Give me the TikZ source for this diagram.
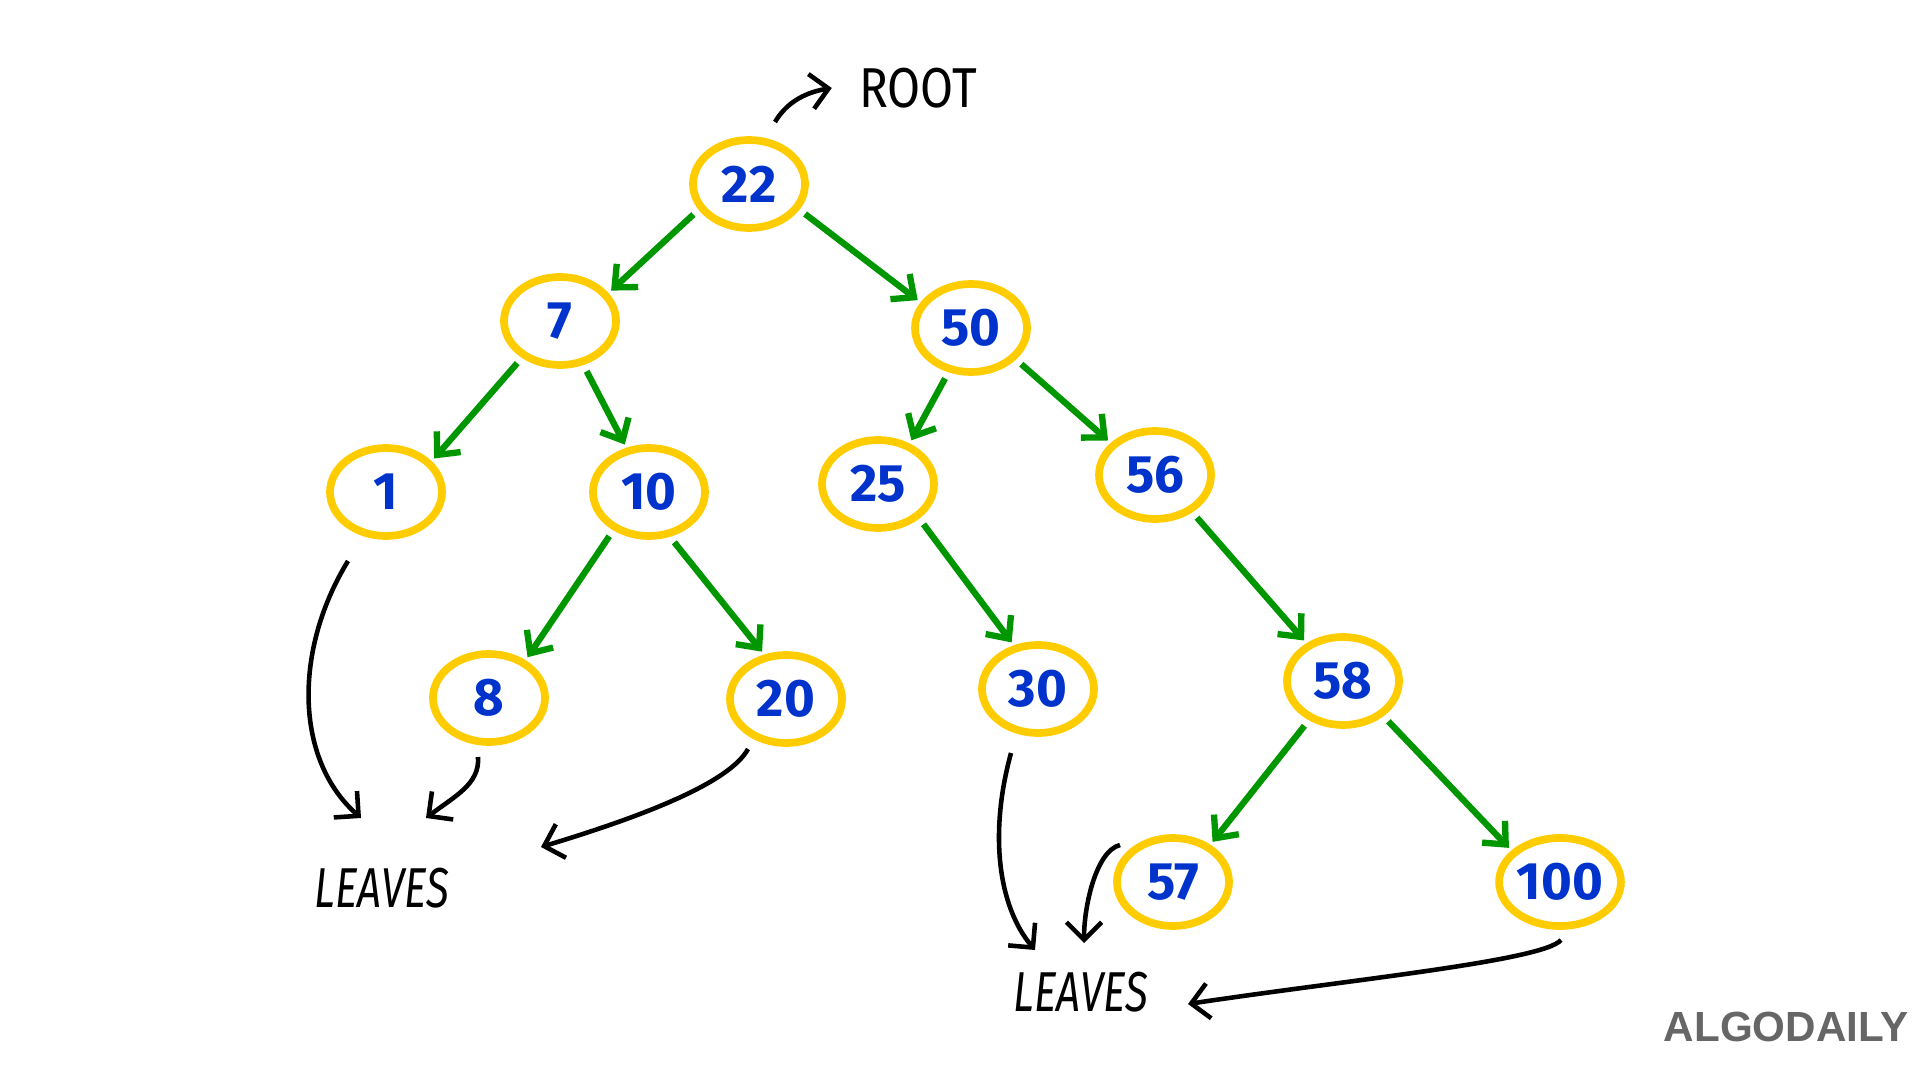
\documentclass[tikz,border=0pt]{standalone}
\usepackage{fontspec}
\usepackage{graphicx}
\setsansfont{Fira Sans}
\newfontfamily\brandfont{Liberation Sans}
\usepackage{tikz}
\usetikzlibrary{shapes,arrows.meta,positioning}
\definecolor{keyblue}{RGB}{0,51,204}
\definecolor{ringyellow}{RGB}{255,204,0}
\definecolor{branchgreen}{RGB}{0,150,0}
\definecolor{brandgray}{RGB}{102,102,102}

\begin{document}
\begin{tikzpicture}[
    keynode/.style={draw=ringyellow, line width=2.2pt, ellipse, minimum width=1.12cm, minimum height=0.88cm, inner sep=0pt, text=keyblue, font=\sffamily\bfseries\fontsize{15}{15}\selectfont},
    branch/.style={draw=branchgreen, line width=1.8pt, -{Straight Barb[length=5pt,width=9pt]}, shorten <=2pt, shorten >=1pt},
    leafarrow/.style={draw=black, line width=1.3pt, -{Straight Barb[length=5pt,width=10pt]}},
    handtext/.style={font=\sffamily\fontsize{16}{16}\selectfont}
]
        \useasboundingbox (0,0) rectangle (19.2,-10.8);

        % the keys
        \node[keynode] (n22) at (7.49,-1.84) {22};
        \node[keynode] (n7) at (5.60,-3.21) {7};
        \node[keynode] (n50) at (9.71,-3.28) {50};
        \node[keynode] (n1) at (3.86,-4.92) {1};
        \node[keynode] (n10) at (6.49,-4.92) {10};
        \node[keynode] (n25) at (8.78,-4.84) {25};
        \node[keynode] (n56) at (11.55,-4.75) {56};
        \node[keynode] (n8) at (4.89,-6.98) {8};
        \node[keynode] (n20) at (7.86,-6.99) {20};
        \node[keynode] (n30) at (10.38,-6.89) {30};
        \node[keynode] (n58) at (13.43,-6.81) {58};
        \node[keynode] (n57) at (11.73,-8.82) {57};
        \node[keynode] (n100) at (15.60,-8.82) {100};

        % labels
        \node[handtext] (rootlabel) at (9.18,-0.88) {\scalebox{0.85}[1]{ROOT}};
        \node[handtext] (leavesleft) at (3.82,-8.88) {\scalebox{0.75}[1]{\itshape LEAVES}};
        \node[handtext] (leavesright) at (10.81,-9.92) {\scalebox{0.75}[1]{\itshape LEAVES}};
        \node[text=brandgray, font=\brandfont\bfseries\fontsize{12}{12}\selectfont] (brand) at (17.86,-10.27) {ALGODAILY};

        % branches
        \draw[branch] (n22.207) -- (n7.30);
        \draw[branch] (n22.333) -- (n50.153);
        \draw[branch] (n7.224) -- (n1.34);
        \draw[branch] (n7.298) -- (n10.117);
        \draw[branch] (n50.243) -- (n25.52);
        \draw[branch] (n50.325) -- (n56.144);
        \draw[branch] (n10.227) -- (n8.46);
        \draw[branch] (n10.295) -- (n20.116);
        \draw[branch] (n25.320) -- (n30.119);
        \draw[branch] (n56.315) -- (n58.134);
        \draw[branch] (n58.229) -- (n57.45);
        \draw[branch] (n58.319) -- (n100.147);

        % pointers to the labels
        \draw[leafarrow] ([shift={(0.26,0.62)}]n22.center) .. controls +(0.1,0.17) and +(-0.3,-0.05) .. ([xshift=-0.15cm]rootlabel.west);
        \draw[leafarrow] ([shift={(-0.38,-0.69)}]n1.center) .. controls +(-0.54,-0.88) and +(-0.67,0.59) .. ([shift={(-0.21,0.70)}]leavesleft.center);
        \draw[leafarrow] ([shift={(-0.11,-0.59)}]n8.center) .. controls +(0.02,-0.27) and +(0.29,0.22) .. ([shift={(0.44,0.70)}]leavesleft.center);
        \draw[leafarrow] ([shift={(-0.38,-0.50)}]n20.center) .. controls +(-0.19,-0.35) and +(0.96,0.29) .. ([shift={(1.59,0.41)}]leavesleft.center);
        \draw[leafarrow] ([shift={(-0.27,-0.64)}]n30.center) .. controls +(-0.22,-0.80) and +(-0.37,0.44) .. ([shift={(-0.46,0.42)}]leavesright.center);
        \draw[leafarrow] ([shift={(-0.53,0.37)}]n57.center) .. controls +(-0.24,-0.06) and +(0,0.37) .. ([shift={(0.03,0.49)}]leavesright.center);
        \draw[leafarrow] ([shift={(0.01,-0.58)}]n100.center) .. controls +(-0.18,-0.21) and +(1.59,0.24) .. ([shift={(1.07,-0.12)}]leavesright.center);
    \end{tikzpicture}
\end{document}
